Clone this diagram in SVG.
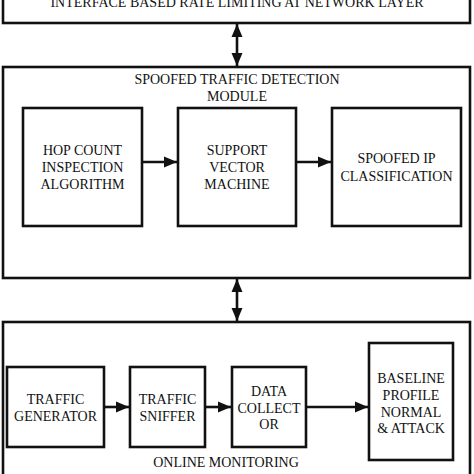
<svg xmlns="http://www.w3.org/2000/svg" width="474" height="474" viewBox="0 0 474 474">
<defs>
<style>
.box{fill:#fff;stroke:#111;stroke-width:2.6}
.t{font-family:"Liberation Serif","Times New Roman",serif;font-size:14px;fill:#111;text-anchor:middle}
.ln{stroke:#111;stroke-width:2.6;fill:none}
</style>
<marker id="ah" markerUnits="userSpaceOnUse" markerWidth="14" markerHeight="12" refX="13" refY="6" orient="auto-start-reverse">
<path d="M0,0.5 L13,6 L0,11.5 Z" fill="#111"/>
</marker>
</defs>
<rect width="474" height="474" fill="#fff"/>
<g id="top">
<rect class="box" x="3" y="-20" width="467" height="43"/>
<text class="t" x="237" y="7">INTERFACE BASED RATE LIMITING AT NETWORK LAYER</text>
</g>
<g id="detection">
<rect class="box" x="3" y="67" width="467" height="211"/>
<text class="t" x="237" y="84">SPOOFED TRAFFIC DETECTION</text>
<text class="t" x="237" y="101">MODULE</text>
</g>
<g id="hop">
<rect class="box" x="23" y="108" width="119" height="118"/>
<text class="t" x="82.5" y="155">HOP COUNT</text>
<text class="t" x="82.5" y="172">INSPECTION</text>
<text class="t" x="82.5" y="189">ALGORITHM</text>
</g>
<g id="svm">
<rect class="box" x="178" y="108" width="118" height="118"/>
<text class="t" x="237" y="155">SUPPORT</text>
<text class="t" x="237" y="172">VECTOR</text>
<text class="t" x="237" y="189">MACHINE</text>
</g>
<g id="spoofed">
<rect class="box" x="332" y="108" width="129" height="118"/>
<text class="t" x="396.5" y="163">SPOOFED IP</text>
<text class="t" x="396.5" y="181">CLASSIFICATION</text>
</g>
<g id="online">
<rect class="box" x="3" y="322" width="467" height="170"/>
<text class="t" x="226" y="467">ONLINE MONITORING</text>
</g>
<g id="generator">
<rect class="box" x="7" y="367" width="97" height="80"/>
<text class="t" x="55.5" y="404">TRAFFIC</text>
<text class="t" x="55.5" y="421">GENERATOR</text>
</g>
<g id="sniffer">
<rect class="box" x="130" y="367" width="75" height="80"/>
<text class="t" x="167.5" y="404">TRAFFIC</text>
<text class="t" x="167.5" y="421">SNIFFER</text>
</g>
<g id="collector">
<rect class="box" x="232" y="367" width="74" height="80"/>
<text class="t" x="269" y="396">DATA</text>
<text class="t" x="269" y="413">COLLECT</text>
<text class="t" x="269" y="429">OR</text>
</g>
<g id="baseline">
<rect class="box" x="369" y="343" width="84" height="117"/>
<text class="t" x="411" y="383">BASELINE</text>
<text class="t" x="411" y="400">PROFILE</text>
<text class="t" x="411" y="417">NORMAL</text>
<text class="t" x="411" y="433">&amp; ATTACK</text>
</g>
<g id="connectors">
<line class="ln" x1="237" y1="24" x2="237" y2="66" marker-start="url(#ah)" marker-end="url(#ah)"/>
<line class="ln" x1="237" y1="279" x2="237" y2="321" marker-start="url(#ah)" marker-end="url(#ah)"/>
<line class="ln" x1="142" y1="162" x2="177" y2="162" marker-end="url(#ah)"/>
<line class="ln" x1="296" y1="162" x2="331" y2="162" marker-end="url(#ah)"/>
<line class="ln" x1="104" y1="407" x2="129" y2="407" marker-end="url(#ah)"/>
<line class="ln" x1="205" y1="407" x2="231" y2="407" marker-end="url(#ah)"/>
<line class="ln" x1="306" y1="407" x2="368" y2="407" marker-end="url(#ah)"/>
</g>
</svg>
